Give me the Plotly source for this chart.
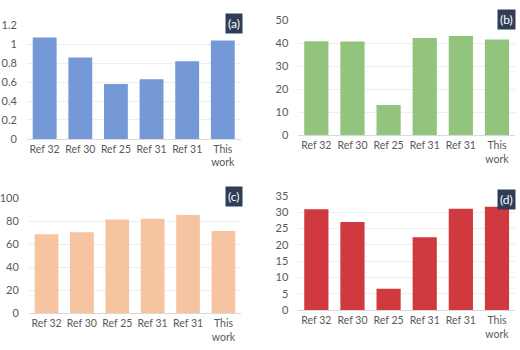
import plotly.graph_objects as go

categories = ["Ref 32", "Ref 30", "Ref 25", "Ref 31", "Ref 31", "This<br>work"]
values_a = [1.07, 0.86, 0.58, 0.63, 0.82, 1.04]
values_b = [41.0, 40.8, 13.2, 42.4, 43.2, 41.7]
values_c = [69.0, 70.7, 81.8, 82.4, 85.8, 71.8]
values_d = [30.9, 27.0, 6.6, 22.3, 31.0, 31.6]
panel_labels = ["(a)", "(b)", "(c)", "(d)"]

ticks_a = [0, 0.2, 0.4, 0.6, 0.8, 1, 1.2]
ticks_b = [0, 10, 20, 30, 40, 50]
ticks_c = [0, 20, 40, 60, 80, 100]
ticks_d = [0, 5, 10, 15, 20, 25, 30, 35]

colors = ["#7499D6", "#93C47D", "#F6C4A0", "#D0393E"]
W, H = 520, 350

# pixel boxes (x0, x1, ytop, ybottom)
boxes = [(24, 239, 19, 137), (297, 515, 14, 133.3), (26, 239.5, 199, 318.3), (297, 515, 196, 315)]
ranges = [[0, 1.2], [0, 50], [0, 100], [0, 35]]
ticks = [ticks_a, ticks_b, ticks_c, ticks_d]
series = [values_a, values_b, values_c, values_d]
badges = [(222, 243, 9, 26), (497, 516, 5, 22), (222, 243, 187, 207), (497, 516, 192, 208)]

fig = go.Figure()
xs = list(range(len(categories)))
font = dict(family="Lato, Open Sans, sans-serif", size=10.5, color="#595959")

layout = dict(width=W, height=H, margin=dict(l=0, r=0, t=0, b=0),
              paper_bgcolor="white", plot_bgcolor="white", showlegend=False,
              bargap=0.33, annotations=[])
for i in range(4):
    x0, x1, yt, yb = boxes[i]
    sfx = "" if i == 0 else str(i + 1)
    fig.add_trace(go.Bar(x=xs, y=series[i], marker=dict(color=colors[i], line=dict(width=0)),
                         xaxis="x" + sfx, yaxis="y" + sfx, hoverinfo="skip"))
    layout["xaxis" + sfx] = dict(domain=[x0 / W, x1 / W], anchor="y" + sfx,
                                 tickmode="array", tickvals=xs, ticktext=categories,
                                 range=[-0.5, 5.5], showgrid=False, showline=True,
                                 linecolor="#D9D9D9", linewidth=1, ticks="", tickfont=font,
                                 zeroline=False, fixedrange=True)
    layout["yaxis" + sfx] = dict(domain=[1 - yb / H, 1 - yt / H], anchor="x" + sfx,
                                 range=ranges[i], tickmode="array", tickvals=ticks[i],
                                 showgrid=True, gridcolor="#EEEEEE", gridwidth=1,
                                 showline=False, zeroline=False, ticks="",
                                 tickfont=dict(font, size=11), ticklabelstandoff=9,
                                 fixedrange=True)
    bx0, bx1, by0, by1 = badges[i]
    layout["annotations"].append(dict(
        text=panel_labels[i], xref="paper", yref="paper",
        x=(bx0 + bx1) / 2 / W, y=1 - (by0 + by1) / 2 / H, xanchor="center", yanchor="middle",
        showarrow=False, bgcolor="#2F3D58", borderpad=2,
        font=dict(family="Lato, Open Sans, sans-serif", size=12, color="white")))

fig.update_layout(**layout)
fig.write_html("out.html", config={"displayModeBar": False},
               post_script="document.body.style.margin='0';document.body.style.overflow='hidden';")
